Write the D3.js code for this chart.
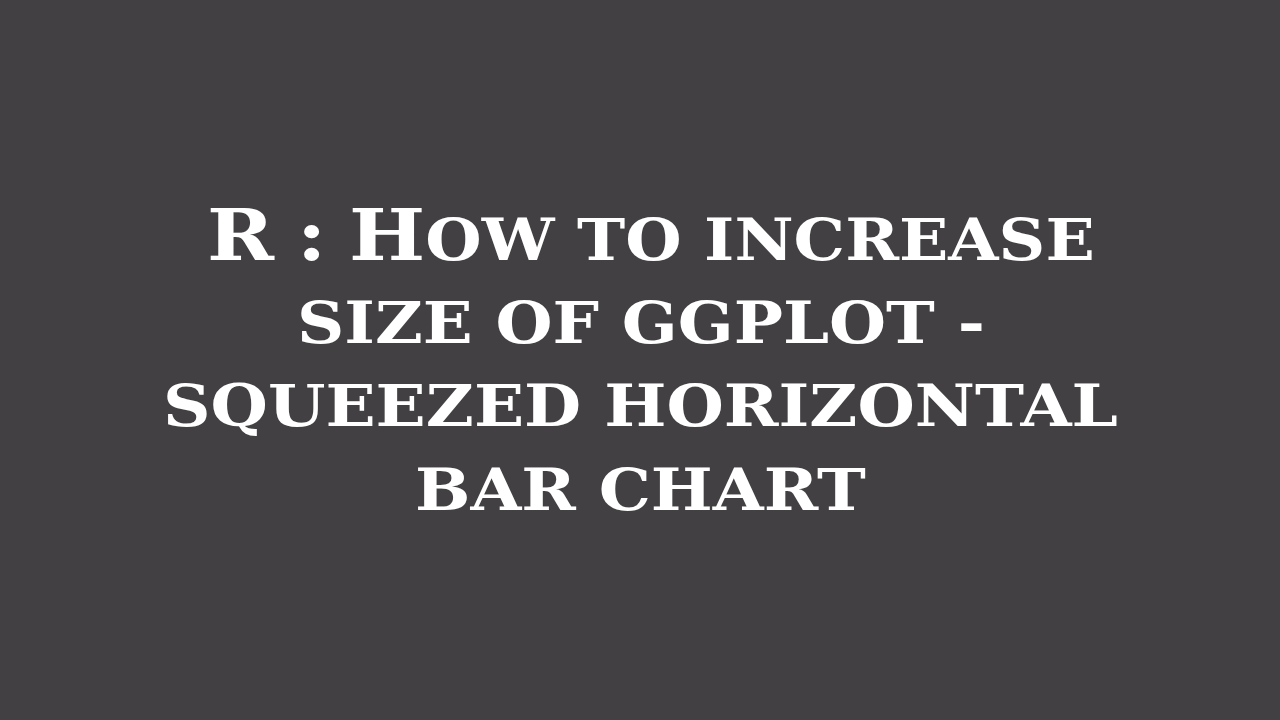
<!DOCTYPE html>
<html>
<head>
<meta charset="utf-8">
<script src="https://d3js.org/d3.v7.min.js"></script>
<style>
  html, body { margin: 0; padding: 0; background: #424043; }
  svg { display: block; }
</style>
</head>
<body>
<svg id="card"></svg>
<script>
var W = 1280, H = 720;

// title lines, as printed on the card
var lines = ["R : How to increase", "size of ggplot -", "squeezed horizontal", "bar chart"];
// left / right edge of each line and its baseline
var lineLeft = [207, 297, 163, 415];
var lineRight = [1095, 985, 1118, 866];
var lineBase = [260, 343, 426, 510];

var capSize = 71;     // full capitals
var smallSize = 57;   // the small caps

var svg = d3.select("#card").attr("width", W).attr("height", H);
svg.append("rect").attr("width", W).attr("height", H).attr("fill", "#424043");

// split a line into runs of real capitals and of lower case shown as small caps
var runs = function(s){
  var out = [];
  for (var k = 0; k < s.length; k++) {
    var c = s[k];
    var big = (c !== c.toLowerCase()) || c == ":" ;
    if (out.length && out[out.length-1].big == big) out[out.length-1].t += c;
    else out.push({t: c, big: big});
  }
  return out;
};

var texts = svg.selectAll("text.line")
  .data(lines)
  .enter()
  .append("text")
  .attr("class", "line")
  .attr("x", 0)
  .attr("y", 0)
  .attr("fill", "#ffffff")
  .attr("font-family", "'DejaVu Serif', serif")
  .attr("font-weight", "bold")
  .style("white-space", "pre");

texts.selectAll("tspan")
  .data(function(d){ return runs(d); })
  .enter()
  .append("tspan")
  .attr("font-size", function(r){ return r.big ? capSize : smallSize; })
  .text(function(r){ return r.t.toUpperCase(); });

// squeeze each line to the width it has on the card
texts.each(function(d, i){
  var bb = this.getBBox();
  var target = lineRight[i] - lineLeft[i];
  var sx = target / bb.width;
  d3.select(this).attr("transform",
    "translate(" + (lineLeft[i] - bb.x * sx) + "," + lineBase[i] + ") scale(" + sx + ",1)");
});
</script>
</body>
</html>
